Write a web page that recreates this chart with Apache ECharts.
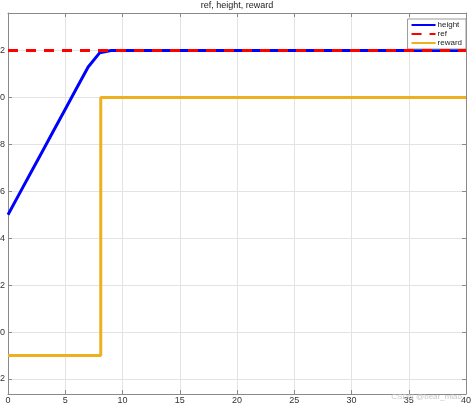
<!DOCTYPE html>
<html><head><meta charset="utf-8">
<script src="https://cdn.jsdelivr.net/npm/echarts@6/dist/echarts.min.js"></script>
<style>html,body{margin:0;padding:0;background:#fff}#c{width:474px;height:406px}</style>
</head><body><div id="c"></div>
<script>
const heightT = [0, 1, 2, 3, 4, 5, 6, 7, 8, 9, 40];
const heightV = [5, 5.9, 6.8, 7.7, 8.6, 9.5, 10.4, 11.3, 11.9, 12, 12];
const refT = [0, 40];
const refV = [12, 12];
const rewardT = [0, 8.1, 8.1, 40];
const rewardV = [-1, -1, 10, 10];
const yTicks = [-2, 0, 2, 4, 6, 8, 10, 12];
const xTicks = [0, 5, 10, 15, 20, 25, 30, 35, 40];

const pair = (t, v) => t.map((x, i) => [x, v[i]]);
const font = 'Liberation Sans';
const frame = '#8a8a8a';
const gridC = '#e3e3e3';

const xBase = {
  type: 'value', min: 0, max: 40, interval: 5,
  axisLine: { show: true, onZero: false, lineStyle: { color: frame, width: 1 } },
  axisTick: { show: true, inside: true, length: 4, lineStyle: { color: frame } },
  splitLine: { show: false }
};
const yBase = {
  type: 'value', min: -2.64, max: 13.6,
  axisLine: { show: true, onZero: false, lineStyle: { color: frame, width: 1 } },
  axisTick: { show: true, inside: true, length: 4, customValues: yTicks, lineStyle: { color: frame } },
  splitLine: { show: false }
};

const chart = echarts.init(document.getElementById('c'), null, { renderer: 'canvas' });
chart.setOption({
  animation: false,
  backgroundColor: '#fff',
  title: {
    text: 'ref, height, reward', left: 'center', top: 1, padding: 0,
    textStyle: { fontFamily: font, fontSize: 9, fontWeight: 'normal', color: '#222' }
  },
  grid: { left: 8, right: 8, top: 13, bottom: 12, containLabel: false, outerBoundsMode: 'none' },
  legend: {
    right: 8, top: 19, orient: 'vertical',
    itemWidth: 24, itemHeight: 6, itemGap: 1,
    padding: [2, 4, 2, 3],
    itemStyle: { opacity: 0 },
    borderColor: '#999', borderWidth: 1, backgroundColor: '#fff',
    textStyle: { fontFamily: font, fontSize: 8, color: '#222', padding: [0, 0, 0, -3] },
    data: ['height', 'ref', 'reward']
  },
  xAxis: [
    Object.assign({}, xBase, {
      position: 'bottom',
      axisLabel: { show: true, margin: 2, fontFamily: font, fontSize: 9, color: '#333',
        customValues: xTicks },
      splitLine: { show: true, lineStyle: { color: gridC, width: 1 } }
    }),
    Object.assign({}, xBase, { position: 'top', axisLabel: { show: false } })
  ],
  yAxis: [
    Object.assign({}, yBase, {
      position: 'left',
      axisLabel: { show: true, margin: 3, fontFamily: font, fontSize: 9, color: '#333',
        customValues: yTicks },
      splitLine: { show: true, lineStyle: { color: gridC, width: 1 } }
    }),
    Object.assign({}, yBase, { position: 'right', axisLabel: { show: false } })
  ],
  graphic: [{
    type: 'text', right: 12, bottom: 5, z: 100,
    style: { text: 'CSDN @bear_miao', fontFamily: font, fontSize: 8, fill: '#c8c8c8' }
  }],
  series: [
    {
      name: 'height', type: 'line', symbol: 'none', z: 3,
      data: pair(heightT, heightV),
      lineStyle: { color: '#0000ff', width: 3 }, itemStyle: { color: '#0000ff' }
    },
    {
      name: 'ref', type: 'line', symbol: 'none', z: 4,
      data: pair(refT, refV),
      lineStyle: { color: '#ff0000', width: 3, type: [10, 8] }, itemStyle: { color: '#ff0000' }
    },
    {
      name: 'reward', type: 'line', symbol: 'none', z: 2,
      data: pair(rewardT, rewardV),
      lineStyle: { color: '#edb120', width: 3 }, itemStyle: { color: '#edb120' }
    }
  ]
});
</script>
</body></html>
